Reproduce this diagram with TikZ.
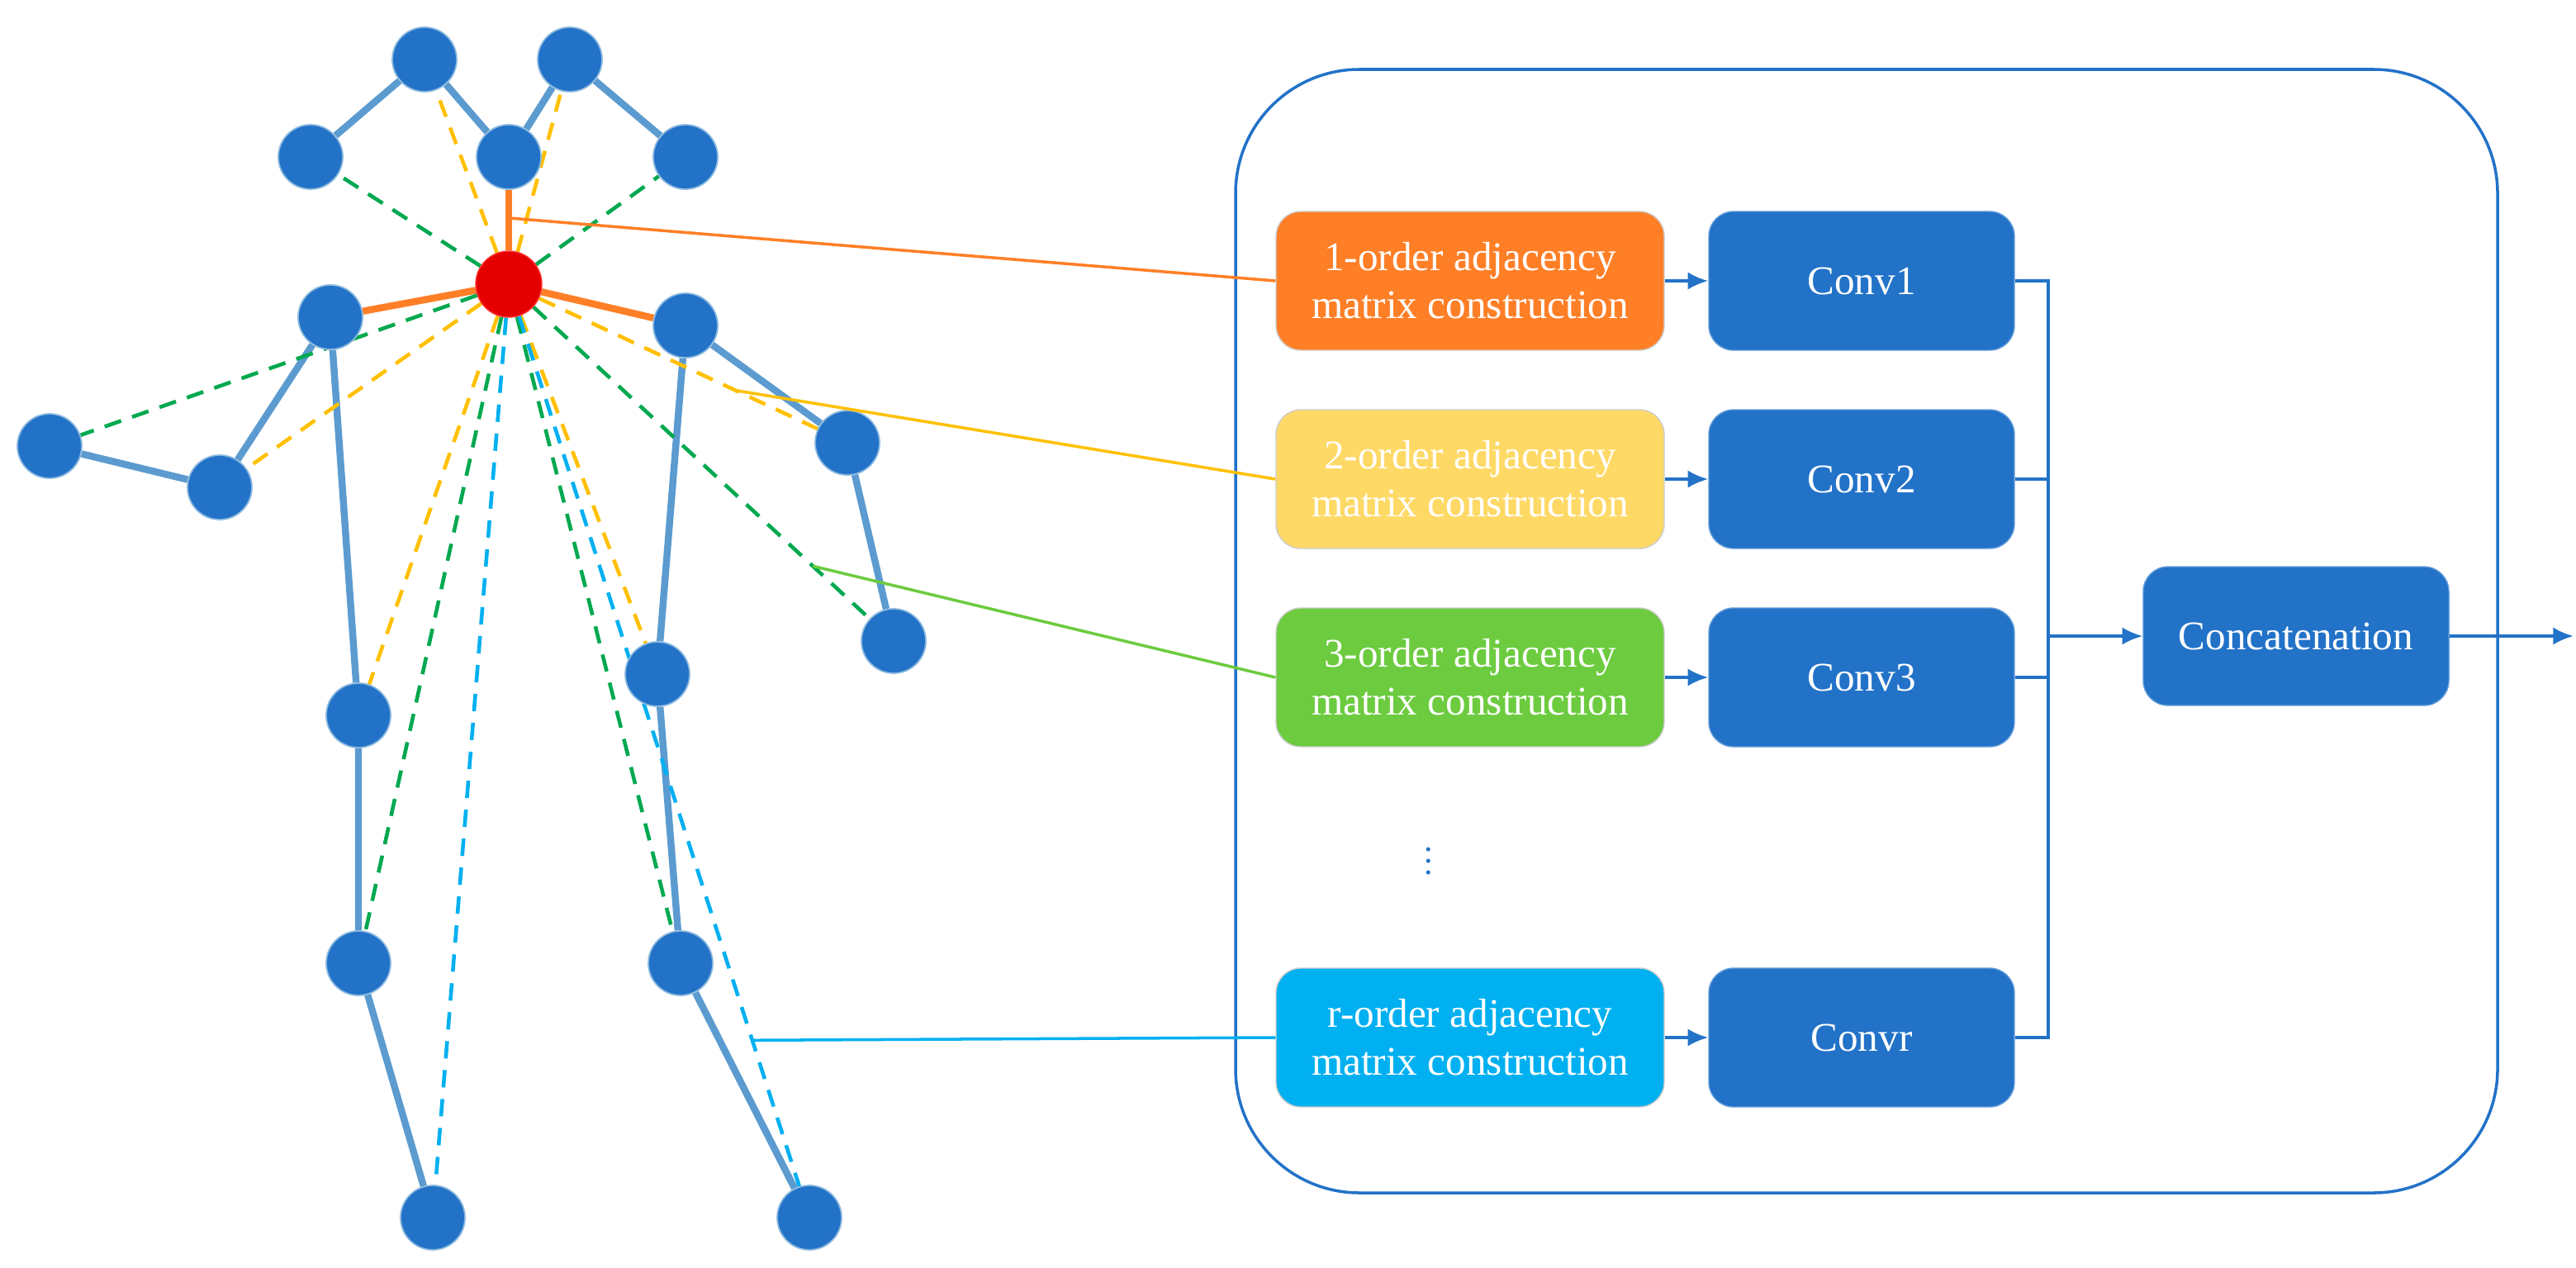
\documentclass[tikz,border=0pt]{standalone}
\usepackage{fontspec}
\setmainfont{Liberation Serif}
\usetikzlibrary{calc,arrows.meta,backgrounds}
\definecolor{jointblue}{HTML}{2272C8}
\definecolor{bonecol}{HTML}{5B9BD0}
\definecolor{ordone}{HTML}{FF7F27}
\definecolor{ordtwo}{HTML}{FFC000}
\definecolor{ordtwofill}{HTML}{FFD966}
\definecolor{ordthree}{HTML}{00A84F}
\definecolor{ordthreefill}{HTML}{6CCB3F}
\definecolor{ordr}{HTML}{00B0F0}
\tikzset{
  joint/.style={circle,fill=jointblue,draw=bonecol!70,line width=0.5pt,minimum size=0.78cm,inner sep=0pt},
  bone/.style={bonecol,line width=2.4pt},
  near/.style={ordone,line width=2.4pt},
  hop/.style={dashed,dash pattern=on 6pt off 4pt,line width=1.3pt},
  feed/.style={line width=1pt},
  adj/.style={rounded corners=0.3cm,minimum width=4.7cm,minimum height=1.68cm,align=center,text=white,
    font=\fontsize{14}{16.5}\selectfont,draw=gray!40,line width=0.4pt},
  conv/.style={rounded corners=0.3cm,fill=jointblue,draw=jointblue!70,minimum width=3.7cm,minimum height=1.68cm,
    text=white,font=\fontsize{14}{16.5}\selectfont},
  flow/.style={jointblue,line width=1pt,-{Latex[length=7pt,width=6pt]}}
}
\begin{document}
\begin{tikzpicture}[x=0.2mm,y=-0.2mm]
		\useasboundingbox (0,0) rectangle (1559.5,767.5);
		% 外枠
		\draw[jointblue,line width=1pt,rounded corners=1.5cm] (748,42) rectangle (1512,722);
		% 骨格
		\node[joint] (htl) at (257,36) {};
		\node[joint] (htr) at (345,36) {};
		\node[joint] (neck) at (308,95) {};
		\node[joint] (hfl) at (188,95) {};
		\node[joint] (hfr) at (415,95) {};
		\node[joint] (lsh) at (200,192) {};
		\node[joint] (rsh) at (415,197) {};
		\node[joint] (lhand) at (30,270) {};
		\node[joint] (lelb) at (133,295) {};
		\node[joint] (relb) at (513,268) {};
		\node[joint] (rhand) at (541,388) {};
		\node[joint] (lhip) at (217,433) {};
		\node[joint] (rhip) at (398,408) {};
		\node[joint] (lknee) at (217,583) {};
		\node[joint] (rknee) at (412,583) {};
		\node[joint] (lfoot) at (262,737) {};
		\node[joint] (rfoot) at (490,737) {};
		\node[circle,fill=red!90!black,draw=red!80,minimum size=0.8cm,inner sep=0pt] (ctr) at (308,172) {};
		\begin{scope}[on background layer]
		% 骨の描画
		\draw[bone] (hfl)--(htl)--(neck)--(htr)--(hfr);
		\draw[bone] (lhand)--(lelb)--(lsh)--(lhip)--(lknee)--(lfoot);
		\draw[bone] (rhand)--(relb)--(rsh)--(rhip)--(rknee)--(rfoot);
		\draw[near] (ctr)--(neck);
		\draw[near] (ctr)--(lsh);
		\draw[near] (ctr)--(rsh);
		% 破線の描画
		\foreach \j in {htl,htr,lelb,relb,lhip,rhip}
			\draw[hop,ordtwo] (ctr)--(\j);
		\foreach \j in {hfl,hfr,lhand,rhand,lknee,rknee}
			\draw[hop,ordthree] (ctr)--(\j);
		\foreach \j in {lfoot,rfoot}
			\draw[hop,ordr] (ctr)--(\j);
		\end{scope}
		% 行列構築のブロック
		\node[adj,fill=ordone] (a1) at (890,170) {1-order adjacency\\matrix construction};
		\node[adj,fill=ordtwofill] (a2) at (890,290) {2-order adjacency\\matrix construction};
		\node[adj,fill=ordthreefill] (a3) at (890,410) {3-order adjacency\\matrix construction};
		\node[adj,fill=ordr] (ar) at (890,628) {r-order adjacency\\matrix construction};
		\node[text=jointblue,font=\large,inner sep=0pt] (dots) at (865,516) {$\vdots$};
		\node[conv] (c1) at (1127,170) {Conv1};
		\node[conv] (c2) at (1127,290) {Conv2};
		\node[conv] (c3) at (1127,410) {Conv3};
		\node[conv] (cr) at (1127,628) {Convr};
		\node[conv] (cat) at (1390,385) {Concatenation};
		% 引き出し線
		\coordinate (p1) at ($(ctr)!0.52!(neck)$);
		\coordinate (p2) at ($(ctr)!0.67!(relb)$);
		\coordinate (p3) at ($(ctr)!0.79!(rhand)$);
		\coordinate (pr) at ($(ctr)!0.81!(rfoot)$);
		\draw[feed,ordone] (p1)--(a1.west);
		\draw[feed,ordtwo] (p2)--(a2.west);
		\draw[feed,ordthreefill] (p3)--(a3.west);
		\draw[feed,ordr] (pr)--(ar.west);
		% 矢印
		\foreach \a/\c in {a1/c1,a2/c2,a3/c3,ar/cr}
			\draw[flow] (\a)--(\c);
		\coordinate (bus) at (1240,385);
		\coordinate (out) at (1558,385);
		\draw[jointblue,line width=1pt] (c1.east)-|(bus) (c2.east)-|(bus) (c3.east)-|(bus) (cr.east)-|(bus);
		\draw[flow] (bus)--(cat);
		\draw[flow] (cat)--(out);
	\end{tikzpicture}
\end{document}
